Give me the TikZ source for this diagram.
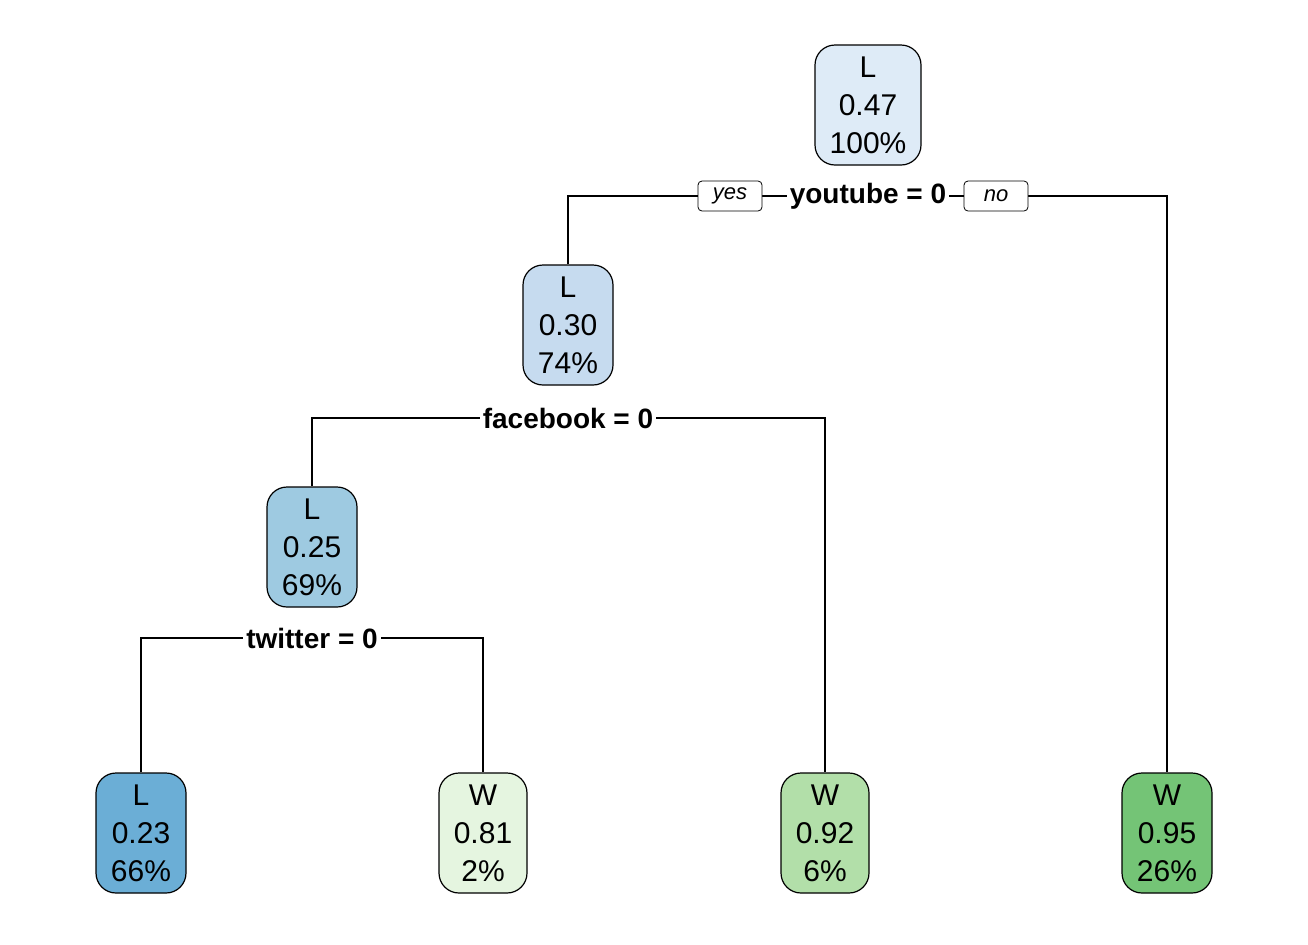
\documentclass[tikz,border=0pt]{standalone}
\usepackage{fontspec}
\setmainfont{Liberation Sans}
\begin{document}
\begin{tikzpicture}[x=0.5pt,y=-0.5pt,
  box/.style={draw=black,line width=0.6pt,rounded corners=10pt,minimum height=60pt,inner sep=0pt,align=center,font=\fontsize{15}{19}\selectfont},
  lab/.style={fill=white,inner sep=1.5pt,font=\bfseries\fontsize{14}{16}\selectfont},
  yn/.style={draw,fill=white,rounded corners=2pt,minimum width=32pt,minimum height=15pt,inner sep=0pt,font=\itshape\fontsize{11}{12}\selectfont},
  edge/.style={line width=0.6pt}]
\useasboundingbox (0,0) rectangle (1308,944);
\definecolor{c1}{HTML}{DEEBF7}\definecolor{c2}{HTML}{C6DBEF}\definecolor{c3}{HTML}{9ECAE1}
\definecolor{c4}{HTML}{6BAED6}\definecolor{g1}{HTML}{E5F5E0}\definecolor{g2}{HTML}{B2DFA9}\definecolor{g3}{HTML}{74C476}
\coordinate (r0) at (868,196);
\coordinate (rl) at (568,196);\coordinate (rr) at (1167,196);
\coordinate (fl) at (312,418);\coordinate (fr) at (825,418);
\coordinate (tl) at (141,638);\coordinate (tr) at (483,638);
\node[box,fill=c1,minimum width=53pt] (root) at (868,105) {L\\0.47\\100\%};
\node[box,fill=c2,minimum width=45pt] (n2) at (568,325) {L\\0.30\\74\%};
\node[box,fill=c3,minimum width=45pt] (n3) at (312,547) {L\\0.25\\69\%};
\node[box,fill=c4,minimum width=45pt] (l1) at (141,833) {L\\0.23\\66\%};
\node[box,fill=g1,minimum width=44pt] (l2) at (483,833) {W\\0.81\\2\%};
\node[box,fill=g2,minimum width=44pt] (l3) at (825,833) {W\\0.92\\6\%};
\node[box,fill=g3,minimum width=45pt] (l4) at (1167,833) {W\\0.95\\26\%};
\draw[edge] (n2.north) -- (rl) -- (rr) -- (l4.north);
\draw[edge] (n3.north) -- (fl) -- (fr) -- (l3.north);
\draw[edge] (l1.north) -- (tl) -- (tr) -- (l2.north);
\node[lab] (s1) at (r0) {youtube = 0};
\node[lab] (s2) at (568,418) {facebook = 0};
\node[lab] (s3) at (312,638) {twitter = 0};
\node[yn] (yes) at (730,196) {yes};
\node[yn] (no) at (996,196) {no};
\end{tikzpicture}
\end{document}
